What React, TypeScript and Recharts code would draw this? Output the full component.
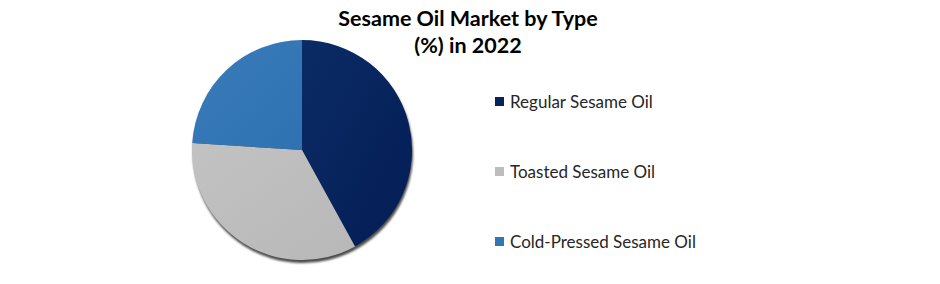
import React from 'react';
import { PieChart, Pie, Cell, Legend } from 'recharts';

const categories = ['Regular Sesame Oil', 'Toasted Sesame Oil', 'Cold-Pressed Sesame Oil'];
const shares = [42, 34, 24];
const colors = ['#07225C', '#BDBDBD', '#3476B5'];
const gradientIds = ['gradRegular', 'gradToasted', 'gradCold'];
const titleLines = ['Sesame Oil Market by Type', '(%) in 2022'];

const data = categories.map((name, i) => ({ name, value: shares[i] }));

const renderLegend = (props: any) => {
    // keep the slice order, not the alphabetical one
    const payload = [...(props.payload || [])].sort(
        (a: any, b: any) => categories.indexOf(a.value) - categories.indexOf(b.value)
    );
    return (
        <div>
            {payload.map((entry: any, i: number) => {
                const idx = categories.indexOf(entry.value);
                return (
                    <div
                        key={entry.value}
                        style={{ display: 'flex', alignItems: 'center', height: 20, marginBottom: i < payload.length - 1 ? 50 : 0 }}
                    >
                        <span style={{ width: 9, height: 9, background: colors[idx], marginRight: 6, display: 'inline-block' }} />
                        <span style={{ fontFamily: 'Lato, sans-serif', fontSize: 17, color: '#262626', whiteSpace: 'nowrap' }}>
                            {entry.value}
                        </span>
                    </div>
                );
            })}
        </div>
    );
};

const App: React.FC = () => {
    return (
        <div style={{ position: 'absolute', left: 0, top: 0, background: '#fff' }}>
            <style>{'.recharts-pie{filter:drop-shadow(1px 3px 1px rgba(0,0,0,0.7));}'}</style>
            <PieChart width={940} height={284} margin={{ top: 0, right: 0, bottom: 0, left: 0 }}>
                <defs>
                    <linearGradient id="gradRegular" x1="0" y1="0" x2="1" y2="1">
                        <stop offset="0%" stopColor="#0B2B66" />
                        <stop offset="100%" stopColor="#041D54" />
                    </linearGradient>
                    <linearGradient id="gradToasted" x1="0" y1="0" x2="1" y2="1">
                        <stop offset="0%" stopColor="#C2C2C2" />
                        <stop offset="100%" stopColor="#B8B8B8" />
                    </linearGradient>
                    <linearGradient id="gradCold" x1="0" y1="0" x2="1" y2="1">
                        <stop offset="0%" stopColor="#3A7CBA" />
                        <stop offset="100%" stopColor="#2F72B1" />
                    </linearGradient>
                </defs>
                <text x={468} y={26} textAnchor="middle" fontFamily="Lato, sans-serif" fontWeight="bold" fontSize={21.5} fill="#000">
                    {titleLines[0]}
                </text>
                <text x={468} y={53} textAnchor="middle" fontFamily="Lato, sans-serif" fontWeight="bold" fontSize={21.5} fill="#000">
                    {titleLines[1]}
                </text>
                <Pie
                    data={data}
                    dataKey="value"
                    nameKey="name"
                    cx={302}
                    cy={150}
                    outerRadius={110}
                    startAngle={90}
                    endAngle={-270}
                    stroke="none"
                    isAnimationActive={false}
                    legendType="square"
                >
                    {data.map((d, i) => (
                        <Cell key={d.name} fill={`url(#${gradientIds[i]})`} />
                    ))}
                </Pie>
                <Legend
                    layout="vertical"
                    verticalAlign="top"
                    align="right"
                    content={renderLegend}
                    wrapperStyle={{ left: 495, right: 'auto', top: 91, width: 260 }}
                />
            </PieChart>
        </div>
    );
};

export default App;
